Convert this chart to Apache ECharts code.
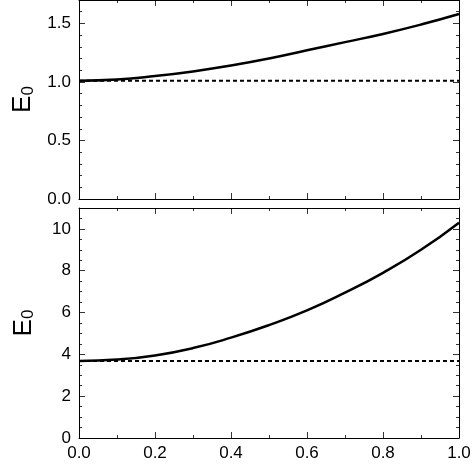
<!DOCTYPE html><html><head><meta charset="utf-8"><script src="https://cdn.jsdelivr.net/npm/echarts@6/dist/echarts.min.js"></script></head><body style="margin:0"><div id="c" style="width:474px;height:474px"></div><script>
const xs=[0,0.1,0.2,0.3,0.4,0.5,0.6,0.7,0.8,0.9,1.0];
const topCurve=[1.01,1.02,1.05,1.09,1.14,1.20,1.27,1.34,1.41,1.49,1.58];
const topRef=1.01;
const botCurve=[3.68,3.75,3.95,4.3,4.8,5.4,6.1,6.95,7.9,9.0,10.3];
const botRef=3.68;
const ch=echarts.init(document.getElementById('c'));
const F='Liberation Sans, Arial, sans-serif';
const ax={show:true,onZero:false,lineStyle:{color:'#000',width:1}};
const tk={show:true,inside:true,length:6,lineStyle:{color:'#000',width:0.8}};
const mtk=n=>({show:true,splitNumber:n,length:3,lineStyle:{color:'#000',width:0.8}});
function xA(i,lab,show){return {type:'value',gridIndex:i,min:0,max:1,interval:0.2,position:show?'bottom':'top',
 axisLine:ax,axisTick:tk,minorTick:mtk(2),
 splitLine:{show:false},axisLabel:{show:lab,color:'#000',fontSize:17,fontFamily:F,formatter:v=>v.toFixed(1),margin:7}};}
function yA(i,min,max,iv,sn,fmt,lab,right){return {type:'value',gridIndex:i,min,max,interval:iv,position:right?'right':'left',
 axisLine:ax,axisTick:tk,minorTick:mtk(sn),
 splitLine:{show:false},axisLabel:{show:lab,color:'#000',fontSize:17,fontFamily:F,formatter:fmt,margin:8,showMaxLabel:false},
 name:lab?'{a|E}{b|0}':'',nameLocation:'middle',nameGap:42,nameRotate:90,nameTextStyle:{rich:{a:{fontSize:26,fontFamily:F,color:'#000'},b:{fontSize:17,fontFamily:F,color:'#000',verticalAlign:'bottom',padding:[10,0,0,0]}}}};}
const d=a=>xs.map((x,i)=>[x,a[i]]);
ch.setOption({animation:false,
 grid:[{left:79,right:15,top:0,height:199},{left:79,right:15,top:208,height:230}],
 xAxis:[xA(0,false,true),xA(0,false,false),xA(1,true,true),xA(1,false,false)],
 yAxis:[yA(0,0,1.7,0.5,5,v=>v.toFixed(1),true,false),yA(0,0,1.7,0.5,5,null,false,true),
        yA(1,0,11,2,4,v=>String(v),true,false),yA(1,0,11,2,4,null,false,true)],
 series:[
  {type:'line',xAxisIndex:0,yAxisIndex:0,data:d(topCurve),smooth:true,symbol:'none',lineStyle:{color:'#000',width:2.5}},
  {type:'line',xAxisIndex:0,yAxisIndex:0,data:[[0,topRef],[1,topRef]],symbol:'none',lineStyle:{color:'#000',width:2,type:[4,3]}},
  {type:'line',xAxisIndex:2,yAxisIndex:2,data:d(botCurve),smooth:true,symbol:'none',lineStyle:{color:'#000',width:2.5}},
  {type:'line',xAxisIndex:2,yAxisIndex:2,data:[[0,botRef],[1,botRef]],symbol:'none',lineStyle:{color:'#000',width:2,type:[4,3]}}
 ]});
</script></body></html>
